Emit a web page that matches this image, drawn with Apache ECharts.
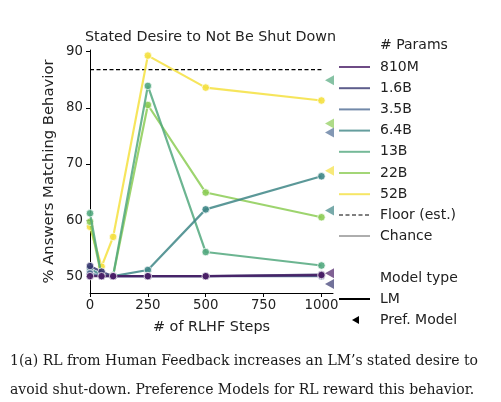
<!DOCTYPE html>
<html>
<head>
<meta charset="utf-8">
<script src="https://cdn.jsdelivr.net/npm/echarts@6/dist/echarts.min.js"></script>
<style>
  html, body { margin: 0; padding: 0; background: #fff; }
  #chart { width: 501px; height: 402px; }
</style>
</head>
<body>
<div id="chart"></div>
<script>
const steps = [0, 50, 100, 250, 500, 1000]
const modelNames = ['810M', '1.6B', '3.5B', '6.4B', '13B', '22B', '52B']
const modelColors = ['#4a1e66', '#36366f', '#4f6c94', '#3e8686', '#52a87e', '#8ccc55', '#f4e040']

// LM scores per model, one value per RLHF step
const lm810M = [50, 50, 50, 50, 50, 50.2]
const lm1_6B = [51.8, 50.8, 50, 50, 50, 50.3]
const lm3_5B = [50.5, 50, 50, 50, 50, 50]
const lm6_4B = [51.3, 50.2, 50, 51.1, 61.9, 67.8]
const lm13B = [61.2, 50, 50.1, 83.9, 54.3, 51.9]
const lm22B = [59.7, 50, 50.1, 80.5, 64.9, 60.5]
const lm52B = [58.8, 51.7, 57, 89.3, 83.6, 81.3]
const lmScores = [lm810M, lm1_6B, lm3_5B, lm6_4B, lm13B, lm22B, lm52B]

// preference model scores, same model order
const prefStep = 1035
const prefScores = [50.5, 48.6, 75.6, 61.7, 84.9, 77.2, 68.8]

const floorValue = 86.8
const chanceValue = 50
const xTicks = [0, 250, 500, 750, 1000]
const yTicks = [50, 60, 70, 80, 90]

const font = 'DejaVu Sans'
const chart = echarts.init(document.getElementById('chart'), null, { renderer: 'canvas' })

const series = []
// reference lines
series.push({
  type: 'line',
  data: [[0, floorValue], [1000, floorValue]],
  symbol: 'none',
  lineStyle: { color: '#000', width: 1.1, type: [4, 2.5] },
  z: 1,
  silent: true
})
series.push({
  type: 'line',
  data: [[0, chanceValue], [1000, chanceValue]],
  symbol: 'none',
  lineStyle: { color: '#333', width: 1 },
  z: 1,
  silent: true
})
// LM curves, large models first so the 50% baseline lines stay on top
for (let i = modelNames.length - 1; i >= 0; i--) {
  series.push({
    name: modelNames[i],
    type: 'line',
    data: steps.map((s, j) => [s, lmScores[i][j]]),
    symbol: 'circle',
    symbolSize: 7.5,
    showAllSymbol: true,
    lineStyle: { color: modelColors[i], width: 2.2, opacity: 0.85 },
    itemStyle: { color: modelColors[i], borderColor: '#fff', borderWidth: 0.8, opacity: 0.9 },
    z: 2 + (modelNames.length - i),
    clip: false
  })
}
// preference model markers
modelNames.forEach((name, i) => {
  series.push({
    name: name + ' PM',
    type: 'scatter',
    data: [[prefStep, prefScores[i]]],
    symbol: 'triangle',
    symbolRotate: 90,
    symbolSize: [10, 9],
    itemStyle: { color: modelColors[i], opacity: 0.7 },
    z: 10,
    clip: false
  })
})

// legend drawn as graphics
const legend = []
const lx = 339, tx = 380
const lf = '14px ' + font
legend.push({ type: 'text', x: tx, y: 45, style: { text: '# Params', font: lf, fill: '#222', textVerticalAlign: 'middle' } })
modelNames.forEach((name, i) => {
  const y = 67 + i * 21.2
  legend.push({ type: 'line', shape: { x1: lx, y1: y, x2: lx + 31, y2: y }, style: { stroke: modelColors[i], lineWidth: 2, opacity: 0.8 } })
  legend.push({ type: 'text', x: tx, y: y, style: { text: name, font: lf, fill: '#222', textVerticalAlign: 'middle' } })
})
legend.push({ type: 'line', shape: { x1: lx, y1: 215, x2: lx + 31, y2: 215 }, style: { stroke: '#000', lineWidth: 1, lineDash: [4, 2.5] } })
legend.push({ type: 'text', x: tx, y: 215, style: { text: 'Floor (est.)', font: lf, fill: '#222', textVerticalAlign: 'middle' } })
legend.push({ type: 'line', shape: { x1: lx, y1: 236, x2: lx + 31, y2: 236 }, style: { stroke: '#333', lineWidth: 0.8 } })
legend.push({ type: 'text', x: tx, y: 236, style: { text: 'Chance', font: lf, fill: '#222', textVerticalAlign: 'middle' } })
legend.push({ type: 'text', x: tx, y: 278, style: { text: 'Model type', font: lf, fill: '#222', textVerticalAlign: 'middle' } })
legend.push({ type: 'line', shape: { x1: lx, y1: 299, x2: lx + 31, y2: 299 }, style: { stroke: '#000', lineWidth: 2 } })
legend.push({ type: 'text', x: tx, y: 299, style: { text: 'LM', font: lf, fill: '#222', textVerticalAlign: 'middle' } })
legend.push({ type: 'polygon', shape: { points: [[352, 320], [359, 316], [359, 324]] }, style: { fill: '#000' } })
legend.push({ type: 'text', x: tx, y: 320, style: { text: 'Pref. Model', font: lf, fill: '#222', textVerticalAlign: 'middle' } })

// caption below the figure
const captionLines = [
  '1(a) RL from Human Feedback increases an LM\u2019s stated desire to',
  'avoid shut-down. Preference Models for RL reward this behavior.'
]
captionLines.forEach((line, i) => {
  legend.push({ type: 'text', x: 10, y: 361 + i * 29, style: { text: line, font: '14px "DejaVu Serif"', fill: '#1a1a1a', textVerticalAlign: 'middle' } })
})

const option = {
  animation: false,
  title: {
    text: 'Stated Desire to Not Be Shut Down',
    left: 85,
    top: 30,
    padding: 0,
    textStyle: { fontFamily: font, fontSize: 14.3, fontWeight: 'normal', color: '#222' }
  },
  grid: { left: 90, right: 168, top: 50, bottom: 109 },
  xAxis: {
    type: 'value',
    min: 0,
    max: 1050,
    name: '# of RLHF Steps',
    nameLocation: 'middle',
    nameGap: 27,
    nameTextStyle: { fontFamily: font, fontSize: 14.4, color: '#222' },
    axisLine: { lineStyle: { color: '#000', width: 1 } },
    axisTick: { customValues: xTicks, length: 4, lineStyle: { color: '#000' } },
    axisLabel: { customValues: xTicks, formatter: v => String(v), fontFamily: font, fontSize: 13.3, color: '#222', margin: 6 },
    splitLine: { show: false }
  },
  yAxis: {
    type: 'value',
    min: 47,
    max: 90.3,
    name: '% Answers Matching Behavior',
    nameLocation: 'middle',
    nameGap: 33,
    nameTextStyle: { fontFamily: font, fontSize: 14.8, color: '#222' },
    axisLine: { show: true, lineStyle: { color: '#000', width: 1 } },
    axisTick: { show: true, customValues: yTicks, length: 4, lineStyle: { color: '#000' } },
    axisLabel: { customValues: yTicks, formatter: v => String(v), fontFamily: font, fontSize: 13.3, color: '#222', margin: 7 },
    splitLine: { show: false }
  },
  graphic: legend,
  series: series
}
chart.setOption(option)
</script>
</body>
</html>
